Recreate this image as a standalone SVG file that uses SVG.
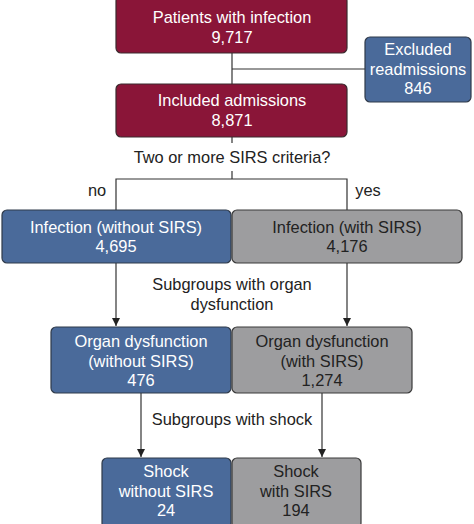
<svg xmlns="http://www.w3.org/2000/svg" width="474" height="524" viewBox="0 0 474 524">
<defs>
<style>
.red{fill:#8a1538;stroke:#3a2a2e;stroke-width:1.2}
.blue{fill:#4a6a9a;stroke:#2f3a4a;stroke-width:1.2}
.gray{fill:#9d9d9f;stroke:#3a3a3a;stroke-width:1.2}
text{font-family:"Liberation Sans",Arial,sans-serif;font-size:16.4px;text-anchor:middle}
.w{fill:#ffffff}
.d{fill:#222222}
.ln{stroke:#333333;stroke-width:1.2;fill:none}
</style>
<marker id="arr" viewBox="0 0 10 10" refX="10" refY="5" markerWidth="7" markerHeight="7" orient="auto">
<path d="M0,0 L10,5 L0,10 z" fill="#222"/>
</marker>
</defs>
<rect width="474" height="524" fill="#ffffff"/>
<g id="connectors">
<line class="ln" x1="232" y1="53" x2="232" y2="84"/>
<line class="ln" x1="232" y1="69" x2="365" y2="69"/>
<line class="ln" x1="232" y1="137" x2="232" y2="143"/>
<line class="ln" x1="232" y1="171" x2="232" y2="179"/>
<polyline class="ln" points="116,210 116,179 347,179 347,210"/>
<line class="ln" x1="116" y1="263" x2="116" y2="326" marker-end="url(#arr)"/>
<line class="ln" x1="347" y1="263" x2="347" y2="326" marker-end="url(#arr)"/>
<line class="ln" x1="141" y1="393" x2="141" y2="457" marker-end="url(#arr)"/>
<line class="ln" x1="322" y1="393" x2="322" y2="457" marker-end="url(#arr)"/>
</g>
<g id="labels">
<text class="d" x="232" y="163">Two or more SIRS criteria?</text>
<text class="d" x="97" y="196">no</text>
<text class="d" x="368" y="196">yes</text>
<rect x="140" y="274" width="184" height="40" fill="#ffffff"/>
<text class="d" x="232" y="290">Subgroups with organ</text>
<text class="d" x="232" y="310">dysfunction</text>
<rect x="150" y="410" width="164" height="20" fill="#ffffff"/>
<text class="d" x="232" y="425">Subgroups with shock</text>
</g>
<g id="patients">
<rect class="red" x="116" y="-4" width="231" height="57" rx="5"/>
<text class="w" x="232" y="23">Patients with infection</text>
<text class="w" x="232" y="43">9,717</text>
</g>
<g id="excluded">
<rect class="blue" x="365" y="37" width="106" height="65" rx="5"/>
<text class="w" x="418" y="55">Excluded</text>
<text class="w" x="418" y="75">readmissions</text>
<text class="w" x="418" y="94">846</text>
</g>
<g id="included">
<rect class="red" x="116" y="84" width="231" height="53" rx="5"/>
<text class="w" x="232" y="106">Included admissions</text>
<text class="w" x="232" y="126">8,871</text>
</g>
<g id="inf-no">
<rect class="blue" x="2" y="210" width="229" height="53" rx="5"/>
<text class="w" x="116" y="233">Infection (without SIRS)</text>
<text class="w" x="116" y="252">4,695</text>
</g>
<g id="inf-yes">
<rect class="gray" x="232" y="210" width="230" height="53" rx="5"/>
<text class="d" x="347" y="233">Infection (with SIRS)</text>
<text class="d" x="347" y="252">4,176</text>
</g>
<g id="org-no">
<rect class="blue" x="51" y="327" width="180" height="66" rx="5"/>
<text class="w" x="141" y="347">Organ dysfunction</text>
<text class="w" x="141" y="367">(without SIRS)</text>
<text class="w" x="141" y="386">476</text>
</g>
<g id="org-yes">
<rect class="gray" x="232" y="327" width="180" height="66" rx="5"/>
<text class="d" x="322" y="347">Organ dysfunction</text>
<text class="d" x="322" y="367">(with SIRS)</text>
<text class="d" x="322" y="386">1,274</text>
</g>
<g id="shock-no">
<rect class="blue" x="102" y="458" width="129" height="70" rx="5"/>
<text class="w" x="166" y="477">Shock</text>
<text class="w" x="166" y="497">without SIRS</text>
<text class="w" x="166" y="516">24</text>
</g>
<g id="shock-yes">
<rect class="gray" x="232" y="458" width="129" height="70" rx="5"/>
<text class="d" x="296" y="477">Shock</text>
<text class="d" x="296" y="497">with SIRS</text>
<text class="d" x="296" y="516">194</text>
</g>
</svg>
